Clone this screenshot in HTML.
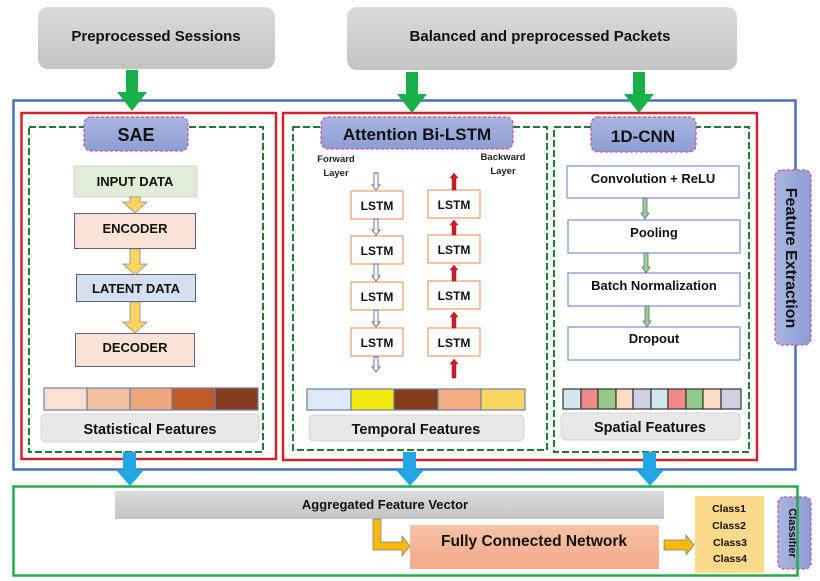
<!DOCTYPE html>
<html><head><meta charset="utf-8"><style>
html,body{margin:0;padding:0;background:#fff}
svg{display:block;font-family:"Liberation Sans",Arial,sans-serif;font-weight:bold}
</style></head><body>
<svg width="820" height="581" viewBox="0 0 820 581" xmlns="http://www.w3.org/2000/svg">
<defs>
<linearGradient id="gr" x1="0" y1="0" x2="0" y2="1"><stop offset="0" stop-color="#dadada"/><stop offset="1" stop-color="#c4c4c4"/></linearGradient>
<linearGradient id="bl" x1="0" y1="0" x2="0" y2="1"><stop offset="0" stop-color="#aab6e0"/><stop offset="1" stop-color="#8b9dd3"/></linearGradient>
<linearGradient id="blv" x1="0" y1="0" x2="1" y2="0"><stop offset="0" stop-color="#aab6e0"/><stop offset="1" stop-color="#8b9dd3"/></linearGradient>
<linearGradient id="fc" x1="0" y1="0" x2="0" y2="1"><stop offset="0" stop-color="#f7c2a6"/><stop offset="1" stop-color="#f4a98a"/></linearGradient>
</defs>
<!-- top boxes -->
<rect x="38" y="7" width="237" height="62" rx="10" fill="url(#gr)"/>
<text x="156" y="41" font-size="15" text-anchor="middle" fill="#111">Preprocessed Sessions</text>
<rect x="347" y="7" width="390" height="63" rx="10" fill="url(#gr)"/>
<text x="540" y="41" font-size="15" text-anchor="middle" fill="#111">Balanced and preprocessed Packets</text>
<!-- outer frames -->
<rect x="13.5" y="100.5" width="782" height="369" fill="none" stroke="#4a6fc1" stroke-width="2.5"/>
<rect x="21.5" y="113" width="254.5" height="346" fill="none" stroke="#d0222a" stroke-width="2.5"/>
<rect x="283" y="113" width="474" height="347" fill="none" stroke="#d0222a" stroke-width="2.5"/>
<g fill="none" stroke="#1f7a33" stroke-width="2" stroke-dasharray="7,3">
<rect x="29" y="127" width="234" height="325"/>
<rect x="293" y="127" width="254" height="323"/>
<rect x="554" y="127" width="195" height="325"/>
</g>
<!-- green arrows -->
<g fill="#17b04a">
<path d="M126 70h12v22h9l-15 19l-15-19h9z"/>
<path d="M406 72h12v22h9l-15 19l-15-19h9z"/>
<path d="M633 72h12v22h9l-15 19l-15-19h9z"/>
</g>
<!-- labels -->
<g stroke="#d04fa8" stroke-width="1.3" stroke-dasharray="3,2" fill="url(#bl)">
<rect x="84" y="117" width="104" height="34" rx="7"/>
<rect x="321" y="117" width="192" height="32" rx="7"/>
<rect x="591" y="117" width="105" height="35" rx="7"/>
<rect x="775" y="170" width="36" height="175" rx="7" fill="url(#blv)"/>
<rect x="778" y="497" width="33" height="72" rx="6" fill="url(#blv)"/>
</g>
<text x="136" y="141" font-size="18" text-anchor="middle" fill="#111">SAE</text>
<text x="417" y="140" font-size="17" text-anchor="middle" fill="#111">Attention Bi-LSTM</text>
<text x="643" y="142" font-size="17" text-anchor="middle" fill="#111">1D-CNN</text>
<text transform="translate(786,258) rotate(90)" font-size="16" text-anchor="middle" fill="#111">Feature Extraction</text>
<text transform="translate(789,533) rotate(90)" font-size="11" text-anchor="middle" fill="#111">Classifier</text>
<!-- SAE -->
<rect x="74" y="166" width="123" height="31" fill="#e0ecd8" stroke="#ccd6c4"/>
<text x="135" y="186" font-size="13" text-anchor="middle" fill="#111">INPUT DATA</text>
<rect x="74.5" y="213.5" width="121" height="35" fill="#fae3d6" stroke="#56648a"/>
<text x="135" y="233" font-size="13" text-anchor="middle" fill="#111">ENCODER</text>
<rect x="76.5" y="274.5" width="119" height="27" fill="#d6dff0" stroke="#56648a"/>
<text x="136" y="293" font-size="13" text-anchor="middle" fill="#111">LATENT DATA</text>
<rect x="75.5" y="333.5" width="119" height="33" fill="#fae3d6" stroke="#56648a"/>
<text x="135" y="352" font-size="13" text-anchor="middle" fill="#111">DECODER</text>
<g fill="#fcd45e" stroke="#888" stroke-width="0.8">
<path d="M130 197h10v5h7l-12 11l-12-11h7z"/>
<path d="M130 249h10v15h7l-12 11l-12-11h7z"/>
<path d="M130 302h10v20h7l-12 11l-12-11h7z"/>
</g>
<g stroke="#6f7fa8" stroke-width="1.2">
<rect x="44" y="388" width="43" height="22" fill="#f9e0d2"/>
<rect x="87" y="388" width="43" height="22" fill="#f3c0a0"/>
<rect x="130" y="388" width="42" height="22" fill="#eea77b"/>
<rect x="172" y="388" width="43" height="22" fill="#c05a24"/>
<rect x="215" y="388" width="43" height="22" fill="#833d1c"/>
</g>
<rect x="41" y="414" width="218" height="28" rx="5" fill="#e8e8e8" stroke="#d4d4d4"/>
<text x="150" y="434" font-size="14.5" text-anchor="middle" fill="#111">Statistical Features</text>
<!-- Bi-LSTM -->
<text x="336" y="162" font-size="9.5" text-anchor="middle" fill="#222">Forward</text>
<text x="336" y="176" font-size="9.5" text-anchor="middle" fill="#222">Layer</text>
<text x="503" y="160" font-size="9.5" text-anchor="middle" fill="#222">Backward</text>
<text x="503" y="174" font-size="9.5" text-anchor="middle" fill="#222">Layer</text>
<g fill="#fff" stroke="#f0a070" stroke-width="1.3">
<rect x="351" y="191" width="52" height="28"/><rect x="351" y="236" width="52" height="28"/>
<rect x="351" y="282" width="52" height="28"/><rect x="351" y="328" width="52" height="28"/>
<rect x="428" y="190" width="52" height="28"/><rect x="428" y="235" width="52" height="28"/>
<rect x="428" y="281" width="52" height="28"/><rect x="428" y="328" width="52" height="28"/>
</g>
<g font-size="12" text-anchor="middle" fill="#111">
<text x="377" y="210">LSTM</text><text x="377" y="255">LSTM</text><text x="377" y="301">LSTM</text><text x="377" y="347">LSTM</text>
<text x="454" y="209">LSTM</text><text x="454" y="254">LSTM</text><text x="454" y="300">LSTM</text><text x="454" y="347">LSTM</text>
</g>
<g fill="#fff" stroke="#5a6690" stroke-width="0.9">
<path d="M374 173h4v12h2l-4 5l-4-5h2z"/>
<path d="M374 219h4v11h2l-4 5l-4-5h2z"/>
<path d="M374 264h4v12h2l-4 5l-4-5h2z"/>
<path d="M374 310h4v12h2l-4 5l-4-5h2z"/>
<path d="M374 357h4v10h2l-4 5l-4-5h2z"/>
</g>
<g fill="#d41a24" stroke="#7a2030" stroke-width="0.5">
<path d="M452 190v-12h-2l4-5l4 5h-2v12z"/>
<path d="M452 235v-10h-2l4-5l4 5h-2v10z"/>
<path d="M452 281v-11h-2l4-5l4 5h-2v11z"/>
<path d="M452 328v-11h-2l4-5l4 5h-2v11z"/>
<path d="M452 378v-14h-2l4-5l4 5h-2v14z"/>
</g>
<g stroke="#6f7fa8" stroke-width="1.2">
<rect x="307" y="389" width="44" height="21" fill="#dce8f6"/>
<rect x="351" y="389" width="43" height="21" fill="#f2ea10"/>
<rect x="394" y="389" width="44" height="21" fill="#843e1c"/>
<rect x="438" y="389" width="43" height="21" fill="#f3ad80"/>
<rect x="481" y="389" width="44" height="21" fill="#fbd662"/>
</g>
<rect x="309" y="415" width="215" height="26" rx="5" fill="#e8e8e8" stroke="#d4d4d4"/>
<text x="416" y="434" font-size="14.5" text-anchor="middle" fill="#111">Temporal Features</text>
<!-- CNN -->
<g fill="#fff" stroke="#7f9ad8" stroke-width="1.3">
<rect x="567" y="166" width="172" height="32"/>
<rect x="568" y="220" width="172" height="33"/>
<rect x="568" y="273" width="172" height="33"/>
<rect x="568" y="327" width="172" height="33"/>
</g>
<g font-size="13" text-anchor="middle" fill="#111">
<text x="653" y="183">Convolution + ReLU</text>
<text x="654" y="237">Pooling</text>
<text x="654" y="290">Batch Normalization</text>
<text x="654" y="343">Dropout</text>
</g>
<g fill="#9ccf88" stroke="#5a7090" stroke-width="0.8">
<path d="M643 198h4v15h2l-4 6l-4-6h2z"/>
<path d="M644 253h4v14h2l-4 6l-4-6h2z"/>
<path d="M645 306h4v15h2l-4 6l-4-6h2z"/>
</g>
<g stroke="#333" stroke-width="1.2">
<rect x="563" y="389" width="18" height="20" fill="#cfe8ea"/>
<rect x="581" y="389" width="17" height="20" fill="#f08a88"/>
<rect x="598" y="389" width="18" height="20" fill="#94c98a"/>
<rect x="616" y="389" width="17" height="20" fill="#fcdcc4"/>
<rect x="633" y="389" width="18" height="20" fill="#cfd0e6"/>
<rect x="651" y="389" width="17" height="20" fill="#cfe8ea"/>
<rect x="668" y="389" width="18" height="20" fill="#f08a88"/>
<rect x="686" y="389" width="17" height="20" fill="#94c98a"/>
<rect x="703" y="389" width="18" height="20" fill="#fcdcc4"/>
<rect x="721" y="389" width="20" height="20" fill="#cfd0e6"/>
</g>
<rect x="561" y="413" width="179" height="27" rx="5" fill="#e8e8e8" stroke="#d4d4d4"/>
<text x="650" y="432" font-size="14.5" text-anchor="middle" fill="#111">Spatial Features</text>
<!-- blue arrows -->
<g fill="#21a8e4">
<path d="M123 452h13v18h8l-14 16l-14-16h7z"/>
<path d="M403 452h13v18h8l-14 16l-14-16h7z"/>
<path d="M643 452h13v18h8l-14 16l-14-16h7z"/>
</g>
<!-- classifier -->
<rect x="13.5" y="486.5" width="784" height="89" fill="none" stroke="#22ad4a" stroke-width="2.5"/>
<rect x="115" y="491" width="549" height="28" fill="url(#gr)"/>
<text x="385" y="509" font-size="13" text-anchor="middle" fill="#111">Aggregated Feature Vector</text>
<rect x="410" y="525" width="249" height="44" fill="url(#fc)"/>
<text x="534" y="546" font-size="15.5" text-anchor="middle" fill="#111">Fully Connected Network</text>
<path d="M373 519h8v23h21v-6l8 10l-8 10v-6h-29z" fill="#f9b80e" stroke="#777" stroke-width="0.7"/>
<path d="M664 540h22v-5l8 10l-8 10v-5h-22z" fill="#f9b80e" stroke="#777" stroke-width="0.7"/>
<rect x="695" y="496" width="69" height="77" fill="#fdd98a"/>
<g font-size="10.5" text-anchor="middle" fill="#111">
<text x="729" y="512">Class1</text><text x="729" y="529">Class2</text>
<text x="730" y="546">Class3</text><text x="730" y="562">Class4</text>
</g>
</svg>
</body></html>
